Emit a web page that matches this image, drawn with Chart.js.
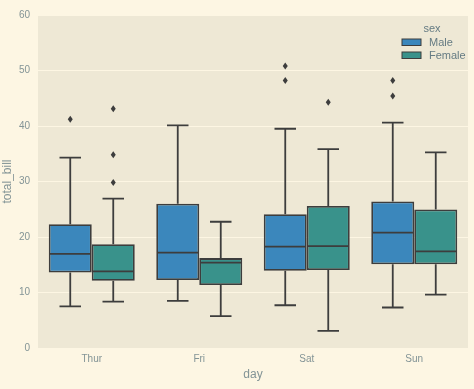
<!DOCTYPE html>
<html>
<head>
<meta charset="utf-8">
<script src="https://cdn.jsdelivr.net/npm/chart.js@4.4.1/dist/chart.umd.min.js"></script>
<style>
  html, body { margin: 0; padding: 0; background: #fdf6e3; }
</style>
</head>
<body>
<canvas id="chart" width="474" height="389"></canvas>
<script>
const days = ['Thur', 'Fri', 'Sat', 'Sun'];
const yTicks = [0, 10, 20, 30, 40, 50, 60];

// Male box stats per day
const maleLow = [7.5, 8.5, 7.7, 7.3];
const maleQ1 = [13.6, 12.25, 13.9, 15.1];
const maleMedian = [16.95, 17.2, 18.25, 20.8];
const maleQ3 = [22.3, 26.0, 24.1, 26.4];
const maleHigh = [34.3, 40.1, 39.5, 40.6];
const maleOutliers = [[41.2], [], [50.8, 48.2], [48.2, 45.4]];

// Female box stats per day
const femaleLow = [8.35, 5.75, 3.07, 9.6];
const femaleQ1 = [12.1, 11.35, 14.05, 15.1];
const femaleMedian = [13.8, 15.4, 18.35, 17.4];
const femaleQ3 = [18.7, 16.2, 25.6, 24.95];
const femaleHigh = [26.9, 22.75, 35.85, 35.25];
const femaleOutliers = [[43.1, 34.8, 29.8], [], [44.3], []];

const maleColor = '#3b87bc';
const femaleColor = '#39928b';
const lineColor = '#3d3d3d';
const font = '"Liberation Sans", Arial, sans-serif';

const series = [
    { label: 'Male', color: maleColor, low: maleLow, q1: maleQ1, med: maleMedian, q3: maleQ3, high: maleHigh, out: maleOutliers },
    { label: 'Female', color: femaleColor, low: femaleLow, q1: femaleQ1, med: femaleMedian, q3: femaleQ3, high: femaleHigh, out: femaleOutliers }
];

const datasets = series.map(s => ({
    label: s.label,
    data: days.map((d, i) => [s.q1[i], s.q3[i]]),
    backgroundColor: s.color,
    borderColor: lineColor,
    borderWidth: 1.8,
    borderSkipped: false,
    categoryPercentage: 0.8,
    barPercentage: 1.0
}));

const backdrop = {
    id: 'backdrop',
    beforeDraw(chart) {
        const { ctx, chartArea: a } = chart;
        ctx.save();
        ctx.fillStyle = '#fdf6e3';
        ctx.fillRect(0, 0, chart.width, chart.height);
        ctx.fillStyle = '#eee8d5';
        ctx.fillRect(a.left, a.top, a.right - a.left, a.bottom - a.top);
        ctx.restore();
    }
};

// whiskers, caps, medians and fliers, placed with the bar elements and the y scale
const whiskers = {
    id: 'whiskers',
    afterDatasetsDraw(chart) {
        const ctx = chart.ctx;
        const y = chart.scales.y;
        ctx.save();
        ctx.strokeStyle = lineColor;
        ctx.fillStyle = lineColor;
        ctx.lineWidth = 1.8;
        series.forEach((s, di) => {
            chart.getDatasetMeta(di).data.forEach((bar, i) => {
                const { x, width } = bar.getProps(['x', 'width'], true);
                const half = width / 2;
                const cap = width / 4;
                const yq1 = y.getPixelForValue(s.q1[i]);
                const yq3 = y.getPixelForValue(s.q3[i]);
                const ylo = y.getPixelForValue(s.low[i]);
                const yhi = y.getPixelForValue(s.high[i]);
                const ymed = y.getPixelForValue(s.med[i]);
                ctx.beginPath();
                ctx.moveTo(x, yq3); ctx.lineTo(x, yhi);
                ctx.moveTo(x - cap, yhi); ctx.lineTo(x + cap, yhi);
                ctx.moveTo(x, yq1); ctx.lineTo(x, ylo);
                ctx.moveTo(x - cap, ylo); ctx.lineTo(x + cap, ylo);
                ctx.moveTo(x - half + 1, ymed); ctx.lineTo(x + half - 1, ymed);
                ctx.stroke();
                s.out[i].forEach(v => {
                    const py = y.getPixelForValue(v);
                    ctx.beginPath();
                    ctx.moveTo(x, py - 3.5);
                    ctx.lineTo(x + 2.5, py);
                    ctx.lineTo(x, py + 3.5);
                    ctx.lineTo(x - 2.5, py);
                    ctx.closePath();
                    ctx.fill();
                });
            });
        });
        ctx.restore();
    }
};

const legendBox = {
    id: 'legendBox',
    afterDraw(chart) {
        const ctx = chart.ctx;
        ctx.save();
        ctx.font = '11px ' + font;
        ctx.fillStyle = '#657b83';
        ctx.textAlign = 'center';
        ctx.textBaseline = 'middle';
        ctx.fillText('sex', 432, 29);
        ctx.textAlign = 'left';
        series.forEach((s, i) => {
            const top = 39 + i * 13;
            ctx.fillStyle = s.color;
            ctx.fillRect(402, top, 19, 6.5);
            ctx.strokeStyle = lineColor;
            ctx.lineWidth = 1;
            ctx.strokeRect(402, top, 19, 6.5);
            ctx.fillStyle = '#657b83';
            ctx.fillText(s.label, 429, top + 3.5);
        });
        ctx.restore();
    }
};

new Chart(document.getElementById('chart'), {
    type: 'bar',
    data: { labels: days, datasets: datasets },
    options: {
        responsive: false,
        animation: false,
        layout: { padding: { left: 0, right: 6, top: 15, bottom: 0 } },
        plugins: { legend: { display: false }, tooltip: { enabled: false } },
        scales: {
            x: {
                grid: { display: false, drawTicks: false },
                border: { display: false },
                ticks: { color: '#839496', padding: 5, font: { family: font, size: 10 } },
                title: { display: true, text: 'day', color: '#839496', padding: { top: 0, bottom: 7 }, font: { family: font, size: 12 } },
                afterFit: s => { s.height = 41; }
            },
            y: {
                min: 0,
                max: 60,
                afterBuildTicks: s => { s.ticks = yTicks.map(v => ({ value: v })); },
                grid: { color: '#fdf6e3', lineWidth: 1, drawTicks: false },
                border: { display: false },
                ticks: { color: '#839496', padding: 8, font: { family: font, size: 10 } },
                title: { display: true, text: 'total_bill', color: '#839496', padding: 0, font: { family: font, size: 12 } },
                afterFit: s => { s.width = 38; }
            }
        }
    },
    plugins: [backdrop, whiskers, legendBox]
});
</script>
</body>
</html>
